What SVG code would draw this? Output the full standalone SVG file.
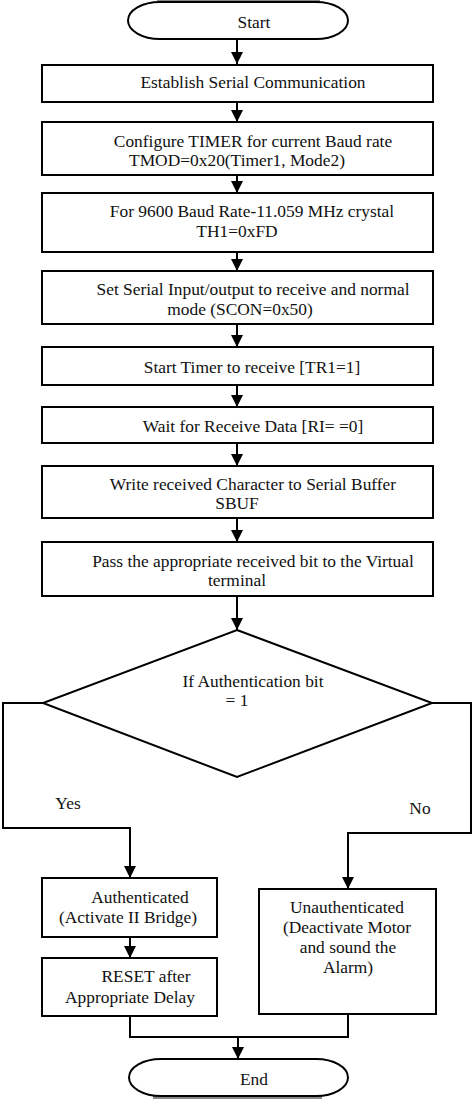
<svg xmlns="http://www.w3.org/2000/svg" width="474" height="1099" viewBox="0 0 474 1099">
<defs>
<style>
.box{fill:#fff;stroke:#000;stroke-width:2}
.ln{fill:none;stroke:#000;stroke-width:2}
text{font-family:"Liberation Serif","Times New Roman",serif;font-size:17.4px;fill:#111;text-anchor:middle}
</style>
<marker id="ah" markerWidth="12" markerHeight="12" viewBox="0 0 12 12" refX="12" refY="6" orient="auto" markerUnits="userSpaceOnUse">
<path d="M0,0 L12,6 L0,12 Z" fill="#000"/>
</marker>
</defs>
<rect x="0" y="0" width="474" height="1099" fill="#fff"/>
<rect x="157" y="0" width="163" height="3" fill="#888"/>
<rect x="153" y="1096" width="169" height="3" fill="#888"/>

<g id="connectors">
<path class="ln" d="M237,39 V64" marker-end="url(#ah)"/>
<path class="ln" d="M237,102 V122" marker-end="url(#ah)"/>
<path class="ln" d="M237,175 V193" marker-end="url(#ah)"/>
<path class="ln" d="M237,252 V271" marker-end="url(#ah)"/>
<path class="ln" d="M237,324 V347" marker-end="url(#ah)"/>
<path class="ln" d="M237,385 V407" marker-end="url(#ah)"/>
<path class="ln" d="M237,443 V466" marker-end="url(#ah)"/>
<path class="ln" d="M237,518 V542" marker-end="url(#ah)"/>
<path class="ln" d="M237,596 V630" marker-end="url(#ah)"/>
<path class="ln" d="M43,703 H3 V828 H130 V878" marker-end="url(#ah)"/>
<path class="ln" d="M432,703 H471 V833 H348 V889" marker-end="url(#ah)"/>
<path class="ln" d="M130,937 V958" marker-end="url(#ah)"/>
<path class="ln" d="M130,1016 V1037 H348 V1014"/>
<path class="ln" d="M238,1037 V1059" marker-end="url(#ah)"/>
<text x="68" y="809">Yes</text>
<text x="420" y="814">No</text>
</g>

<g id="start">
<rect class="box" x="128" y="2" width="220" height="37" rx="32" ry="18.5"/>
<text x="254" y="28">Start</text>
</g>
<g id="establish">
<rect class="box" x="42" y="65" width="391" height="37"/>
<text x="253" y="88">Establish Serial Communication</text>
</g>
<g id="configure">
<rect class="box" x="42" y="122" width="391" height="53"/>
<text x="253" y="147">Configure TIMER for current Baud rate</text>
<text x="237" y="166">TMOD=0x20(Timer1, Mode2)</text>
</g>
<g id="baud">
<rect class="box" x="42" y="193" width="391" height="59"/>
<text x="252" y="217">For 9600 Baud Rate-11.059 MHz crystal</text>
<text x="237" y="237">TH1=0xFD</text>
</g>
<g id="serialio">
<rect class="box" x="42" y="271" width="391" height="53"/>
<text x="253" y="295">Set Serial Input/output to receive and normal</text>
<text x="240" y="315">mode (SCON=0x50)</text>
</g>
<g id="starttimer">
<rect class="box" x="42" y="347" width="391" height="38"/>
<text x="252" y="373">Start Timer to receive [TR1=1]</text>
</g>
<g id="wait">
<rect class="box" x="42" y="407" width="391" height="36"/>
<text x="253" y="432">Wait for Receive Data [RI= =0]</text>
</g>
<g id="write">
<rect class="box" x="42" y="466" width="391" height="52"/>
<text x="253" y="490">Write received Character to Serial Buffer</text>
<text x="237" y="509">SBUF</text>
</g>
<g id="pass">
<rect class="box" x="42" y="542" width="391" height="54"/>
<text x="253" y="567">Pass the appropriate received bit to the Virtual</text>
<text x="237" y="586">terminal</text>
</g>
<g id="decision">
<path class="box" d="M237,630 L432,703 L237,777 L43,703 Z"/>
<text x="253" y="687">If Authentication bit</text>
<text x="237" y="706">= 1</text>
</g>
<g id="authenticated">
<rect class="box" x="42" y="878" width="175" height="59"/>
<text x="140" y="903">Authenticated</text>
<text x="128" y="923">(Activate II Bridge)</text>
</g>
<g id="reset">
<rect class="box" x="42" y="958" width="175" height="58"/>
<text x="146" y="982">RESET after</text>
<text x="130" y="1003">Appropriate Delay</text>
</g>
<g id="unauthenticated">
<rect class="box" x="259" y="889" width="177" height="125"/>
<text x="347" y="913">Unauthenticated</text>
<text x="347" y="933">(Deactivate Motor</text>
<text x="348" y="953">and sound the</text>
<text x="348" y="973">Alarm)</text>
</g>
<g id="end">
<rect class="box" x="129" y="1059" width="219" height="37" rx="32" ry="18.5"/>
<text x="254" y="1085">End</text>
</g>
</svg>
